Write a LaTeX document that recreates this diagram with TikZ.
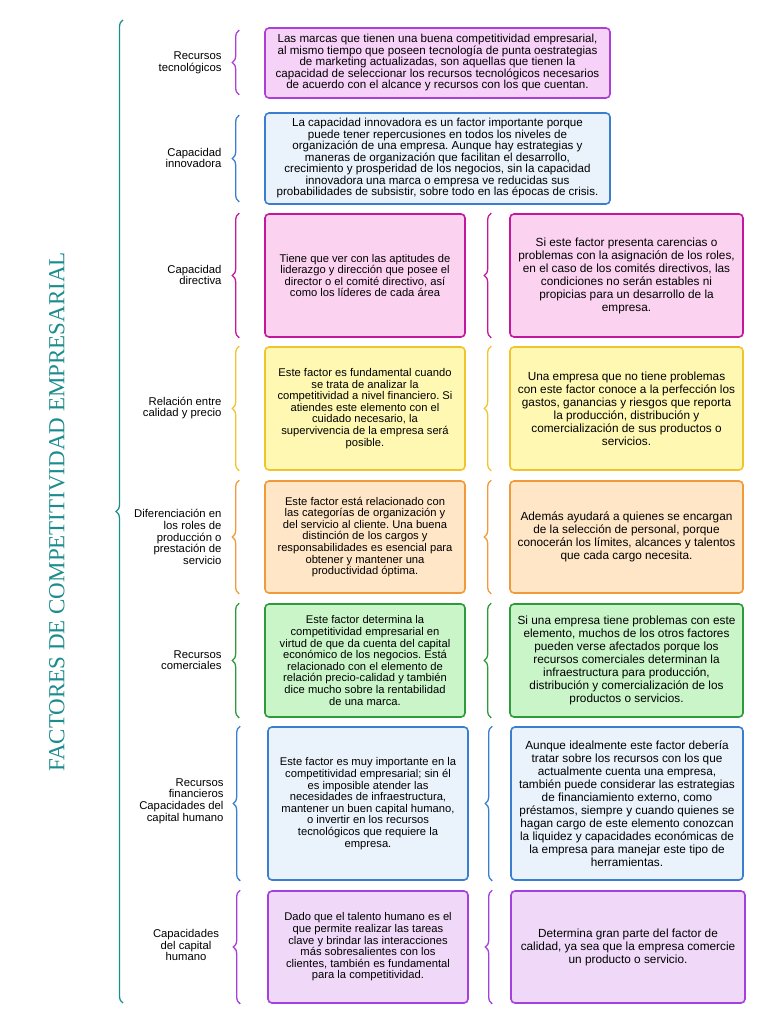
\documentclass[tikz,border=0pt]{standalone}
\usepackage{fontspec}
\setmainfont{Liberation Sans}
\newfontfamily\titlefont{Liberation Serif}
\usetikzlibrary{decorations.pathreplacing}
\frenchspacing

\definecolor{teal1}{HTML}{1C8C8E}
\definecolor{violetline}{HTML}{AE3ED8}
\definecolor{violetfill}{HTML}{F7D2F8}
\definecolor{blueline}{HTML}{3A7FCF}
\definecolor{bluefill}{HTML}{EAF2FB}
\definecolor{magline}{HTML}{C3189E}
\definecolor{magfill}{HTML}{FBD3F1}
\definecolor{yelline}{HTML}{F0C42C}
\definecolor{yelfill}{HTML}{FFF8B2}
\definecolor{oraline}{HTML}{F09A3C}
\definecolor{orafill}{HTML}{FFE6C6}
\definecolor{grnline}{HTML}{2F9A3B}
\definecolor{grnfill}{HTML}{C9F5C9}
\definecolor{purline}{HTML}{A43FE0}
\definecolor{purfill}{HTML}{F0D9F8}

\begin{document}
\begin{tikzpicture}[x=1pt,y=-1pt,
  box/.style={draw, rounded corners=4pt, line width=1.6pt, align=center, inner sep=0pt,
    font=\fontsize{11.6}{11.5}\selectfont},
  lbox/.style={box, minimum width=200pt, font=\fontsize{11.2}{11.6}\selectfont},
  rbox/.style={box, font=\fontsize{11.8}{13}\selectfont},
  lbl/.style={anchor=east, align=right, font=\fontsize{11.3}{11.6}\selectfont},
  brc/.style={decorate, decoration={brace, amplitude=7pt}, line width=1.3pt},
  wide/.style={minimum width=233pt}]

\useasboundingbox (0,0) rectangle (768,1024);

% Title and main brace
\node[rotate=90, text=teal1, font=\titlefont\fontsize{23}{23}\selectfont] (title) at (57,512)
  {FACTORES DE COMPETITIVIDAD EMPRESARIAL};
\coordinate (bigtop) at (123,20);
\coordinate (bigbot) at (123,1003);
\draw[brc, teal1] (bigbot) -- (bigtop);

% Recursos tecnologicos
\node[lbl] (ltec) at (225,63) {Recursos\\ tecnológicos};
\node[box, draw=violetline, fill=violetfill, minimum width=345pt, minimum height=70pt] (tec) at (437.5,63)
  {Las marcas que tienen una buena competitividad empresarial,\\ al mismo tiempo que poseen tecnología de punta oestrategias\\ de marketing actualizadas, son aquellas que tienen la\\ capacidad de seleccionar los recursos tecnológicos necesarios\\ de acuerdo con el alcance y recursos con los que cuentan.};
\draw[brc, violetline] ([xshift=-25pt,yshift=4pt]tec.south west) -- ([xshift=-25pt,yshift=-3pt]tec.north west);

% Capacidad innovadora
\node[lbl] (linn) at (225,158) {Capacidad\\ innovadora};
\node[box, draw=blueline, fill=bluefill, minimum width=345pt, minimum height=91pt] (inn) at (437.5,158.5)
  {La capacidad innovadora es un factor importante porque\\ puede tener repercusiones en todos los niveles de\\ organización de una empresa. Aunque hay estrategias y\\ maneras de organización que facilitan el desarrollo,\\ crecimiento y prosperidad de los negocios, sin la capacidad\\ innovadora una marca o empresa ve reducidas sus\\ probabilidades de subsistir, sobre todo en las épocas de crisis.};
\draw[brc, blueline] ([xshift=-25pt,yshift=3pt]inn.south west) -- ([xshift=-25pt,yshift=-3pt]inn.north west);

% Capacidad directiva
\node[lbl] (ldir) at (225,275) {Capacidad\\ directiva};
\node[lbox, draw=magline, fill=magfill, minimum height=123pt] (dira) at (365,275.5)
  {Tiene que ver con las aptitudes de\\ liderazgo y dirección que posee el\\ director o el comité directivo, así\\ como los líderes de cada área};
\node[rbox, wide, draw=magline, fill=magfill, minimum height=123pt] (dirb) at (626.5,275.5)
  {Si este factor presenta carencias o\\ problemas con la asignación de los roles,\\ en el caso de los comités directivos, las\\ condiciones no serán estables ni\\ propicias para un desarrollo de la\\ empresa.};
\draw[brc, magline] ([xshift=-25pt]dira.south west) -- ([xshift=-25pt]dira.north west);
\draw[brc, magline] ([xshift=-18pt]dirb.south west) -- ([xshift=-18pt]dirb.north west);

% Relacion entre calidad y precio
\node[lbl] (lcal) at (225,408) {Relación entre\\ calidad y precio};
\node[lbox, draw=yelline, fill=yelfill, minimum height=123pt] (cala) at (365,408.5)
  {Este factor es fundamental cuando\\ se trata de analizar la\\ competitividad a nivel financiero. Si\\ atiendes este elemento con el\\ cuidado necesario, la\\ supervivencia de la empresa será\\ posible.};
\node[rbox, wide, draw=yelline, fill=yelfill, minimum height=123pt] (calb) at (626.5,408.5)
  {Una empresa que no tiene problemas\\ con este factor conoce a la perfección los\\ gastos, ganancias y riesgos que reporta\\ la producción, distribución y\\ comercialización de sus productos o\\ servicios.};
\draw[brc, yelline] ([xshift=-25pt]cala.south west) -- ([xshift=-25pt]cala.north west);
\draw[brc, yelline] ([xshift=-18pt]calb.south west) -- ([xshift=-18pt]calb.north west);

% Diferenciacion en los roles
\node[lbl] (ldif) at (225,537) {Diferenciación en\\ los roles de\\ producción o\\ prestación de\\ servicio};
\node[lbox, draw=oraline, fill=orafill, minimum height=112pt] (difa) at (365,537)
  {Este factor está relacionado con\\ las categorías de organización y\\ del servicio al cliente. Una buena\\ distinción de los cargos y\\ responsabilidades es esencial para\\ obtener y mantener una\\ productividad óptima.};
\node[rbox, wide, draw=oraline, fill=orafill, minimum height=112pt] (difb) at (626.5,537)
  {Además ayudará a quienes se encargan\\ de la selección de personal, porque\\ conocerán los límites, alcances y talentos\\ que cada cargo necesita.};
\draw[brc, oraline] ([xshift=-25pt]difa.south west) -- ([xshift=-25pt]difa.north west);
\draw[brc, oraline] ([xshift=-18pt]difb.south west) -- ([xshift=-18pt]difb.north west);

% Recursos comerciales
\node[lbl] (lcom) at (225,660) {Recursos\\ comerciales};
\node[lbox, draw=grnline, fill=grnfill, minimum height=113pt] (coma) at (365,660.5)
  {Este factor determina la\\ competitividad empresarial en\\ virtud de que da cuenta del capital\\ económico de los negocios. Está\\ relacionado con el elemento de\\ relación precio-calidad y también\\ dice mucho sobre la rentabilidad\\ de una marca.};
\node[rbox, wide, draw=grnline, fill=grnfill, minimum height=113pt] (comb) at (626.5,660.5)
  {Si una empresa tiene problemas con este\\ elemento, muchos de los otros factores\\ pueden verse afectados porque los\\ recursos comerciales determinan la\\ infraestructura para producción,\\ distribución y comercialización de los\\ productos o servicios.};
\draw[brc, grnline] ([xshift=-25pt]coma.south west) -- ([xshift=-25pt]coma.north west);
\draw[brc, grnline] ([xshift=-18pt]comb.south west) -- ([xshift=-18pt]comb.north west);

% Recursos financieros
\node[lbl] (lfin) at (227,801) {Recursos\\ financieros\\ Capacidades del\\ capital humano};
\node[lbox, draw=blueline, fill=bluefill, minimum height=153pt] (fina) at (368,803.5)
  {Este factor es muy importante en la\\ competitividad empresarial; sin él\\ es imposible atender las\\ necesidades de infraestructura,\\ mantener un buen capital humano,\\ o invertir en los recursos\\ tecnológicos que requiere la\\ empresa.};
\node[rbox, minimum width=232pt, draw=blueline, fill=bluefill, minimum height=153pt] (finb) at (627,803.5)
  {Aunque idealmente este factor debería\\ tratar sobre los recursos con los que\\ actualmente cuenta una empresa,\\ también puede considerar las estrategias\\ de financiamiento externo, como\\ préstamos, siempre y cuando quienes se\\ hagan cargo de este elemento conozcan\\ la liquidez y capacidades económicas de\\ la empresa para manejar este tipo de\\ herramientas.};
\draw[brc, blueline] ([xshift=-27pt]fina.south west) -- ([xshift=-27pt]fina.north west);
\draw[brc, blueline] ([xshift=-18pt]finb.south west) -- ([xshift=-18pt]finb.north west);

% Capacidades del capital humano
\node[align=center, font=\fontsize{11.3}{11.6}\selectfont] (lhum) at (186,945) {Capacidades\\ del capital\\ humano};
\node[lbox, draw=purline, fill=purfill, minimum height=112pt] (huma) at (368,947)
  {Dado que el talento humano es el\\ que permite realizar las tareas\\ clave y brindar las interacciones\\ más sobresalientes con los\\ clientes, también es fundamental\\ para la competitividad.};
\node[rbox, minimum width=234pt, draw=purline, fill=purfill, minimum height=112pt] (humb) at (628,947)
  {Determina gran parte del factor de\\ calidad, ya sea que la empresa comercie\\ un producto o servicio.};
\draw[brc, purline] ([xshift=-27pt]huma.south west) -- ([xshift=-27pt]huma.north west);
\draw[brc, purline] ([xshift=-18pt]humb.south west) -- ([xshift=-18pt]humb.north west);

\end{tikzpicture}
\end{document}
